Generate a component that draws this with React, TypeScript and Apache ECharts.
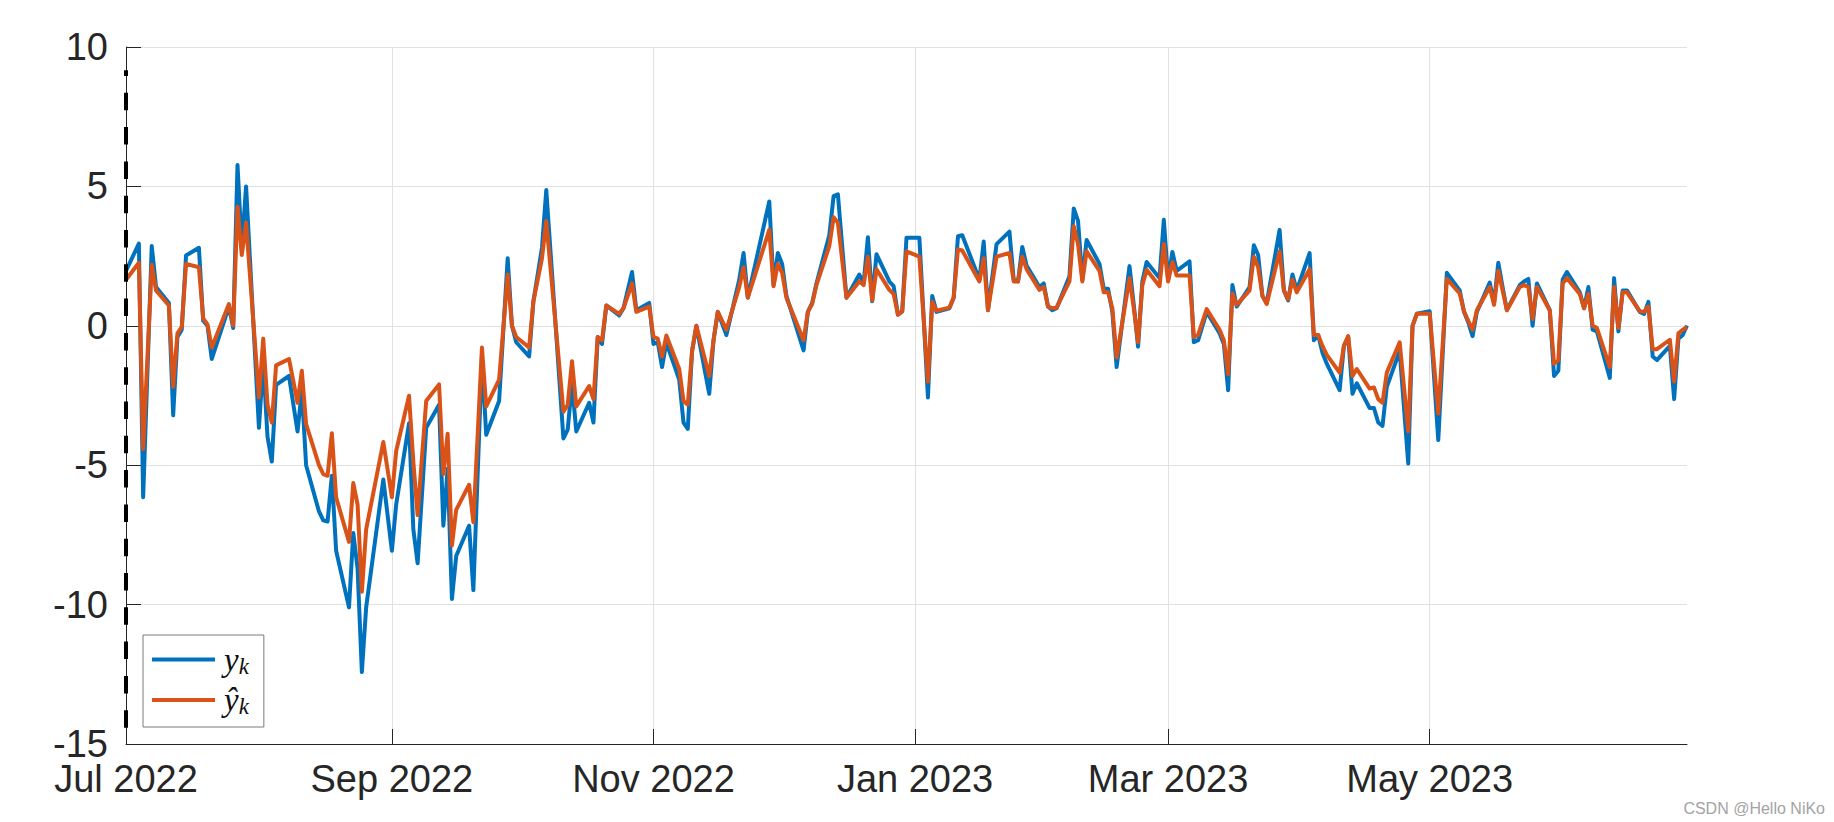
import React, { useEffect, useRef } from 'react';
import * as echarts from 'echarts';

const dates = [
  '2022-07-01','2022-07-04','2022-07-05','2022-07-07','2022-07-08','2022-07-11','2022-07-12','2022-07-13','2022-07-14','2022-07-15',
  '2022-07-18','2022-07-19','2022-07-20','2022-07-21','2022-07-25','2022-07-26','2022-07-27','2022-07-28','2022-07-29',
  '2022-08-01','2022-08-02','2022-08-03','2022-08-04','2022-08-05','2022-08-08','2022-08-10','2022-08-11','2022-08-12',
  '2022-08-15','2022-08-16','2022-08-17','2022-08-18','2022-08-19','2022-08-22','2022-08-23','2022-08-24','2022-08-25','2022-08-26',
  '2022-08-30','2022-09-01','2022-09-02','2022-09-05','2022-09-06','2022-09-07','2022-09-09','2022-09-12','2022-09-13','2022-09-14',
  '2022-09-15','2022-09-16','2022-09-19','2022-09-20','2022-09-22','2022-09-23','2022-09-26','2022-09-28','2022-09-29','2022-09-30',
  '2022-10-03','2022-10-04','2022-10-06','2022-10-07','2022-10-11','2022-10-12','2022-10-13','2022-10-14','2022-10-17','2022-10-18',
  '2022-10-19','2022-10-20','2022-10-21','2022-10-24','2022-10-25','2022-10-27','2022-10-28','2022-10-31','2022-11-01','2022-11-02',
  '2022-11-03','2022-11-04','2022-11-07','2022-11-08','2022-11-09','2022-11-10','2022-11-11','2022-11-14','2022-11-15','2022-11-16',
  '2022-11-18','2022-11-21','2022-11-22','2022-11-23','2022-11-28','2022-11-29','2022-11-30','2022-12-01','2022-12-02','2022-12-06',
  '2022-12-07','2022-12-08','2022-12-09','2022-12-12','2022-12-13','2022-12-14','2022-12-16','2022-12-19','2022-12-20','2022-12-21',
  '2022-12-22','2022-12-23','2022-12-26','2022-12-27','2022-12-28','2022-12-29','2022-12-30','2023-01-02','2023-01-04','2023-01-05',
  '2023-01-06','2023-01-09','2023-01-10','2023-01-11','2023-01-12','2023-01-16','2023-01-17','2023-01-18','2023-01-20','2023-01-23',
  '2023-01-24','2023-01-25','2023-01-26','2023-01-27','2023-01-30','2023-01-31','2023-02-01','2023-02-02','2023-02-03','2023-02-06',
  '2023-02-07','2023-02-08','2023-02-09','2023-02-10','2023-02-13','2023-02-14','2023-02-15','2023-02-16','2023-02-17','2023-02-20',
  '2023-02-21','2023-02-22','2023-02-23','2023-02-24','2023-02-27','2023-02-28','2023-03-01','2023-03-02','2023-03-03','2023-03-06',
  '2023-03-07','2023-03-08','2023-03-10','2023-03-13','2023-03-14','2023-03-15','2023-03-16','2023-03-17','2023-03-20','2023-03-21',
  '2023-03-22','2023-03-23','2023-03-24','2023-03-27','2023-03-28','2023-03-29','2023-03-30','2023-03-31','2023-04-03','2023-04-04',
  '2023-04-05','2023-04-06','2023-04-07','2023-04-10','2023-04-11','2023-04-12','2023-04-13','2023-04-14','2023-04-17','2023-04-18',
  '2023-04-19','2023-04-20','2023-04-21','2023-04-24','2023-04-26','2023-04-27','2023-04-28','2023-05-01','2023-05-03','2023-05-05',
  '2023-05-08','2023-05-09','2023-05-10','2023-05-11','2023-05-12','2023-05-15','2023-05-16','2023-05-17','2023-05-18','2023-05-19',
  '2023-05-22','2023-05-23','2023-05-24','2023-05-25','2023-05-26','2023-05-29','2023-05-30','2023-05-31','2023-06-01','2023-06-02',
  '2023-06-05','2023-06-06','2023-06-07','2023-06-08','2023-06-09','2023-06-12','2023-06-13','2023-06-14','2023-06-15','2023-06-16',
  '2023-06-19','2023-06-20','2023-06-21','2023-06-22','2023-06-23','2023-06-26','2023-06-27','2023-06-28','2023-06-29','2023-06-30'
];

const yValues = [
  1.97, 2.95, -6.15, 2.86, 1.39, 0.82, -3.21, -0.40, -0.14, 2.52,
  2.80, 0.18, 0.00, -1.19, 0.69, -0.08, 5.77, 2.80, 5.00,
  -3.66, -1.29, -3.98, -4.87, -2.12, -1.80, -3.79, -2.31, -5.00,
  -6.66, -6.98, -7.02, -5.38, -8.07, -10.10, -7.43, -8.71, -12.42, -10.10,
  -5.51, -8.07, -6.41, -3.50, -7.30, -8.52, -3.66, -2.83, -7.17, -5.13,
  -9.80, -8.26, -7.17, -9.48, -1.16, -3.91, -2.70, 2.42, 0.00, -0.59,
  -1.10, 0.88, 2.80, 4.87, -4.04, -3.72, -2.06, -3.79, -2.76, -3.47,
  -0.40, -0.65, 0.73, 0.37, 0.63, 1.93, 0.56, 0.82, -0.65, -0.59,
  -1.48, -0.60, -1.93, -3.47, -3.70, -0.91, 0.00, -2.44, -0.52, 0.50,
  -0.33, 1.65, 2.61, 1.01, 4.46, 1.46, 2.61, 2.22, 1.07, -0.88,
  0.50, 0.82, 1.52, 3.25, 4.65, 4.72, 1.01, 1.84, 1.52, 3.18,
  0.88, 2.57, 1.59, 1.42, 0.40, 0.52, 3.16, 3.16, -2.57, 1.07,
  0.50, 0.63, 1.01, 3.21, 3.25, 1.65, 3.02, 0.56, 2.93, 3.38,
  1.65, 1.59, 2.83, 2.16, 1.39, 1.52, 0.69, 0.56, 0.63, 1.78,
  4.21, 3.76, 1.65, 3.08, 2.22, 1.33, 1.33, 0.50, -1.48, 2.14,
  0.75, -0.75, 1.59, 2.29, 1.71, 3.80, 1.65, 2.65, 1.97, 2.31,
  -0.59, -0.52, 0.50, -0.27, -0.65, -2.31, 1.46, 0.69, 1.39, 2.89,
  2.54, 1.07, 0.82, 3.44, 1.27, 0.91, 1.84, 1.27, 2.61, -0.52,
  -0.33, -0.97, -1.36, -2.31, -0.72, -0.40, -2.44, -2.06, -2.95, -2.95,
  -3.47, -3.59, -2.19, -0.91, -4.94, 0.00, 0.43, 0.52, -4.10, 1.90,
  1.27, 0.50, 0.12, -0.37, 0.50, 1.55, 0.82, 2.26, 1.39, 0.56,
  1.46, 1.59, 1.68, 0.00, 1.52, 0.56, -1.80, -1.61, 1.65, 1.93,
  1.20, 0.63, 1.39, -0.14, -0.20, -1.87, 1.71, -0.20, 1.27, 1.27,
  0.50, 0.43, 0.86, -1.10, -1.23, -0.72, -2.63, -0.46, -0.33, 0.01
];

const yHatValues = [
  1.65, 2.26, -4.42, 2.19, 1.27, 0.73, -2.19, -0.27, -0.04, 2.22,
  2.10, 0.27, 0.05, -0.78, 0.78, 0.01, 4.27, 2.54, 3.70,
  -2.57, -0.46, -2.83, -3.47, -1.42, -1.19, -2.76, -1.61, -3.53,
  -5.00, -5.32, -5.38, -3.85, -6.15, -7.75, -5.64, -6.41, -9.54, -7.30,
  -4.17, -6.15, -4.49, -2.51, -4.87, -6.79, -2.70, -2.10, -5.32, -3.87,
  -7.88, -6.60, -5.70, -7.05, -0.78, -2.89, -1.93, 1.84, 0.00, -0.40,
  -0.78, 0.88, 2.42, 3.76, -3.08, -2.83, -1.27, -2.89, -2.16, -2.63,
  -0.40, -0.52, 0.73, 0.43, 0.63, 1.52, 0.50, 0.69, -0.40, -0.46,
  -1.10, -0.35, -1.55, -2.70, -2.83, -0.91, 0.00, -1.80, -0.52, 0.50,
  -0.14, 1.39, 2.10, 1.01, 3.44, 1.42, 2.22, 1.90, 1.01, -0.52,
  0.50, 0.78, 1.46, 2.86, 3.89, 3.70, 1.01, 1.59, 1.46, 2.48,
  0.91, 2.03, 1.29, 1.14, 0.40, 0.52, 2.67, 2.48, -2.00, 0.86,
  0.54, 0.65, 1.01, 2.74, 2.70, 1.59, 2.42, 0.56, 2.48, 2.61,
  1.59, 1.59, 2.48, 2.03, 1.29, 1.39, 0.69, 0.63, 0.65, 1.59,
  3.57, 2.93, 1.59, 2.67, 1.97, 1.20, 1.20, 0.63, -1.14, 1.71,
  0.63, -0.59, 1.46, 2.01, 1.42, 2.93, 1.59, 2.29, 1.80, 1.80,
  -0.40, -0.33, 0.60, -0.14, -0.52, -1.74, 1.16, 0.75, 1.27, 2.48,
  2.10, 1.07, 0.78, 2.67, 1.27, 0.95, 1.65, 1.20, 2.03, -0.33,
  -0.33, -0.72, -1.04, -1.68, -0.72, -0.37, -1.80, -1.55, -2.25, -2.21,
  -2.63, -2.76, -1.68, -0.59, -3.79, 0.00, 0.43, 0.43, -3.15, 1.68,
  1.16, 0.52, 0.18, -0.14, 0.56, 1.39, 0.75, 1.97, 1.27, 0.56,
  1.39, 1.46, 1.39, 0.24, 1.39, 0.56, -1.36, -1.23, 1.52, 1.71,
  1.14, 0.63, 1.14, 0.01, -0.08, -1.48, 1.39, -0.08, 1.20, 1.20,
  0.52, 0.50, 0.69, -0.84, -0.84, -0.50, -2.00, -0.27, -0.14, -0.05
];

const xTickDates = ['2022-07-01', '2022-09-01', '2022-11-01', '2023-01-01', '2023-03-01', '2023-05-01'];
const monthNames = ['Jan', 'Feb', 'Mar', 'Apr', 'May', 'Jun', 'Jul', 'Aug', 'Sep', 'Oct', 'Nov', 'Dec'];
const xMin = '2022-07-01';
const xMax = '2023-06-30';
const yMin = -15;
const yMax = 10;
const yStep = 5;
const dashedLineTop = 9.17;

const seriesNames = ['yk', 'ŷk'];

const toTs = (s: string) => {
  const [y, m, d] = s.split('-').map(Number);
  return Date.UTC(y, m - 1, d);
};

export default function App() {
  const ref = useRef<HTMLDivElement>(null);

  useEffect(() => {
    if (!ref.current) return;
    const chart = echarts.init(ref.current, null, { renderer: 'svg' });
    const axisColor = '#262626';
    const gridColor = '#e1e1e1';
    const font = '"Liberation Sans", Arial, Helvetica, sans-serif';
    const serif = '"Liberation Serif", "DejaVu Serif", serif';
    const tickTs = xTickDates.map(toTs);

    chart.setOption({
      animation: false,
      backgroundColor: '#ffffff',
      grid: { left: 126, right: 147, top: 47, bottom: 78, containLabel: false },
      xAxis: {
        type: 'value',
        min: toTs(xMin),
        max: toTs(xMax),
        scale: true,
        axisLine: { show: true, onZero: false, lineStyle: { color: axisColor, width: 1 } },
        axisTick: { show: true, inside: true, length: 15, lineStyle: { color: axisColor, width: 1 }, customValues: tickTs },
        axisLabel: {
          show: true,
          customValues: tickTs,
          margin: 16,
          fontSize: 38,
          fontFamily: font,
          color: axisColor,
          hideOverlap: false,
          formatter: (val: number) => {
            const d = new Date(val);
            return monthNames[d.getUTCMonth()] + ' ' + d.getUTCFullYear();
          }
        },
        splitLine: { show: true, lineStyle: { color: gridColor, width: 1 } }
      },
      yAxis: {
        type: 'value',
        min: yMin,
        max: yMax,
        interval: yStep,
        axisLine: { show: true, lineStyle: { color: axisColor, width: 1 } },
        axisTick: { show: true, inside: true, length: 15, lineStyle: { color: axisColor, width: 1 } },
        axisLabel: { margin: 18, fontSize: 38, fontFamily: font, color: axisColor },
        splitLine: { show: true, lineStyle: { color: gridColor, width: 1 } }
      },
      legend: {
        orient: 'vertical',
        left: 143,
        top: 635,
        padding: [8, 15, 9, 9],
        itemGap: 6,
        itemWidth: 63,
        itemHeight: 4,
        icon: 'rect',
        borderColor: '#7a7a7a',
        borderWidth: 1,
        backgroundColor: '#ffffff',
        borderRadius: 0,
        selectedMode: false,
        data: seriesNames,
        formatter: (name: string) => (name === 'yk' ? '{i|y}{s|k}' : '{i|ŷ}{s|k}'),
        textStyle: {
          color: '#111111',
          padding: [0, 0, 0, 4],
          rich: {
            i: { fontFamily: serif, fontStyle: 'italic', fontSize: 33, lineHeight: 36, verticalAlign: 'middle', color: '#111111' },
            s: { fontFamily: serif, fontStyle: 'italic', fontSize: 23, lineHeight: 23, verticalAlign: 'bottom', color: '#111111' }
          }
        }
      },
      graphic: [
        {
          type: 'text',
          right: 9,
          top: 800,
          silent: true,
          style: { text: 'CSDN @Hello NiKo', fill: '#a3a3a3', font: '16px "Liberation Sans", Arial, sans-serif' }
        }
      ],
      series: [
        {
          name: seriesNames[0],
          type: 'line',
          data: dates.map((d, i) => [toTs(d), yValues[i]]),
          showSymbol: false,
          symbol: 'none',
          lineStyle: { color: '#0072BD', width: 4, join: 'round' },
          itemStyle: { color: '#0072BD' },
          z: 3,
          markLine: {
            silent: true,
            symbol: ['none', 'none'],
            label: { show: false },
            lineStyle: { color: '#000000', width: 4, type: [17.5, 16.8], dashOffset: 17.5 },
            data: [[{ coord: [toTs(xMin), yMin] }, { coord: [toTs(xMin), dashedLineTop] }]]
          }
        },
        {
          name: seriesNames[1],
          type: 'line',
          data: dates.map((d, i) => [toTs(d), yHatValues[i]]),
          showSymbol: false,
          symbol: 'none',
          lineStyle: { color: '#D95319', width: 4, join: 'round' },
          itemStyle: { color: '#D95319' },
          z: 4
        }
      ]
    });

    return () => chart.dispose();
  }, []);

  return (
    <div
      ref={ref}
      style={{ position: 'absolute', left: 0, top: 0, width: 1834, height: 822, background: '#ffffff' }}
    />
  );
}
